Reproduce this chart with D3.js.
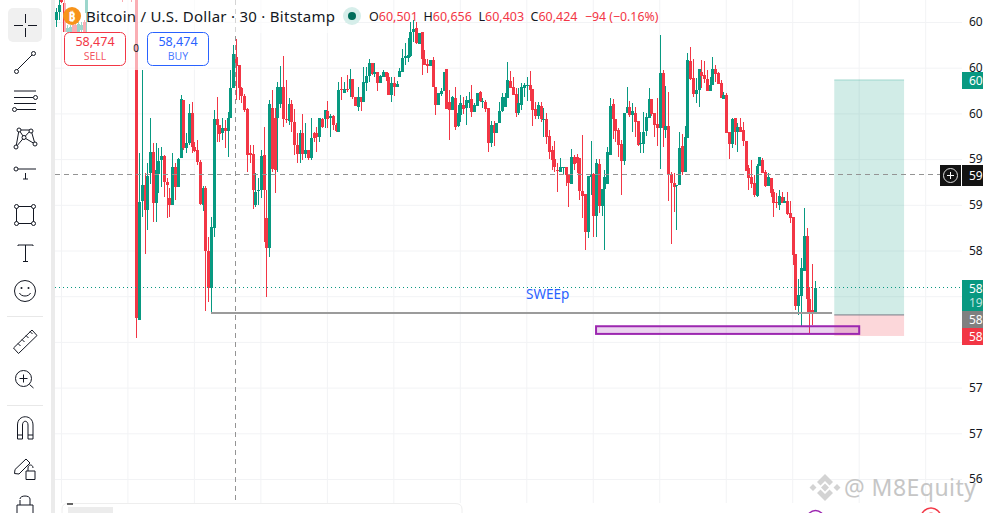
<!DOCTYPE html>
<html>
<head>
<meta charset="utf-8">
<script src="https://d3js.org/d3.v7.min.js"></script>
<style>
  html, body { margin: 0; padding: 0; background: #fff; overflow: hidden; }
  svg { display: block; }
  text { font-family: "Noto Sans", sans-serif; }
</style>
</head>
<body>
<div id="chart"></div>
<script>
// 29 bars before the big drop mostly sit above the top of the window (null = can't be seen)
var opens = [
  60818,60888,61037,60967,60713,60713,60774,60774,60713,60730,
  60800,60879,null,null,null,null,null,null,null,null,
  null,null,null,null,61037,null,null,61037,null,
  61080,58192,59233,59373,59155,59479,59662,59216,59470,59592,
  59627,59399,59260,59198,59531,59356,59610,60118,59698,59742,
  60004,59707,59680,59575,59198,59348,58796,58472,58997,59951,
  59899,59829,59873,59846,59960,60223,60494,60424,60223,60153,
  60039,59654,59645,59198,59321,59330,59636,59085,58822,60048,
  59960,59960,60083,60231,59951,59934,60083,59925,59724,59645,
  59829,59645,59680,59610,59829,59829,59794,59951,59951,60021,
  59960,59978,59899,59837,60214,60179,60214,60214,60301,60144,
  60056,60144,60100,60266,60328,60441,60345,60363,60266,60319,
  60363,60319,60161,60266,60231,60319,60363,60485,60485,60503,
  60713,60748,60608,60713,60476,60433,60415,60468,60231,60074,
  60170,60196,60389,60100,60030,60135,59890,59986,60074,60048,
  60091,60126,60013,60065,60188,60100,60100,60048,59742,59899,
  59829,59916,60021,60056,60135,60284,60231,60170,60004,60074,
  60223,60240,60249,60214,60039,59978,60065,59943,59951,59803,
  59680,59601,59505,59487,59522,59531,59461,59382,59619,59619,
  59610,59321,59295,58962,59443,59470,59102,59557,59190,59339,
  59382,59636,60083,59951,59855,59733,59584,60004,60056,59986,
  60004,59934,59733,59733,59846,59960,60126,60004,59908,59873,
  60354,59855,59890,59470,59391,59365,59373,59715,59487,59785,
  60459,60310,60170,60205,60363,60336,60301,60196,60249,60389,
  60354,60266,60126,60161,59837,59733,59960,59837,59881,59855,
  59759,59522,59443,59391,59277,59540,59592,59487,59365,59435,
  59312,59225,59198,59269,59216,59233,59128,59093,58770,58315,
  58402,58621,58927,58376,58280,58253
];
var highs = [
  60923,60993,61037,60993,60774,60774,60818,60818,60800,60800,
  60818,61037,null,null,null,null,null,null,null,null,
  null,null,null,null,61037,null,null,61037,null,
  61080,59654,60380,59479,59566,59960,59742,59742,59698,59707,
  59636,59435,59348,59654,59566,59610,60161,60118,59829,60083,
  60100,59750,59768,59592,59365,59365,58919,59093,60030,60144,
  59899,59960,59943,60013,60380,60599,60652,60424,60231,60170,
  60048,59724,59724,59479,59435,59680,59881,59330,60118,60205,
  60048,60275,60415,60503,60293,60135,60118,60039,59829,59855,
  59995,59916,59680,59960,59837,59881,59960,59960,60030,60109,
  59995,59986,59916,60275,60319,60275,60336,60389,60301,60144,
  60231,60144,60406,60406,60476,60441,60441,60363,60336,60380,
  60363,60354,60319,60319,60284,60398,60564,60617,60660,60800,
  60818,60800,60704,60713,60555,60476,60468,60494,60231,60179,
  60223,60363,60389,60205,60153,60231,60074,60161,60144,60153,
  60188,60249,60091,60179,60196,60135,60118,60048,59934,59934,
  59916,60100,60179,60179,60450,60371,60319,60223,60223,60266,
  60266,60319,60371,60214,60100,60100,60100,60048,60004,59855,
  59715,59759,59566,59610,59531,59531,59461,59689,59636,59645,
  59610,59811,59295,59452,59759,59479,59601,59601,59339,59505,
  59707,60135,60126,59951,59873,59768,60004,60231,60109,60091,
  60056,59934,59837,60013,60004,60223,60126,60004,60135,60687,
  60380,60240,60188,59487,59479,59373,59837,59820,59890,60529,
  60582,60476,60310,60389,60468,60459,60380,60319,60494,60424,
  60363,60293,60188,60179,59837,59960,59960,59916,59960,59925,
  59759,59549,59592,59461,59557,59619,59610,59505,59479,59435,
  59339,59304,59330,59312,59269,59312,59233,59093,58770,58551,
  58735,59172,58997,58481,58682,58533
];
var lows = [
  60757,60818,60967,60713,60704,60704,60704,60704,60704,60704,
  60704,60713,null,null,null,null,null,null,null,null,
  null,null,null,null,60975,null,null,60975,null,
  58035,58192,59093,58770,58980,59382,59050,59050,59304,59356,
  59269,59085,59093,59198,59242,59356,59610,59680,59654,59724,
  59654,59662,59549,59198,59146,58271,58350,58253,58919,59750,
  59750,59768,59698,59619,59960,60223,60118,60118,60091,60013,
  59487,59566,59163,59181,59198,59260,58875,58393,58744,59487,
  59304,59487,60048,59881,59916,59899,59837,59636,59566,59566,
  59592,59610,59592,59592,59750,59662,59750,59873,59873,59873,
  59794,59855,59837,59837,60118,60179,60188,60144,60126,60065,
  60021,60021,60100,60196,60275,60336,60319,60196,60266,60319,
  60284,60161,60100,60153,60231,60319,60363,60424,60450,60494,
  60625,60608,60608,60336,60424,60354,60415,60231,59986,60074,
  60153,60196,60039,59768,60030,59855,59881,59925,59995,59899,
  60048,59969,60013,60065,60100,60048,60013,59662,59707,59715,
  59829,59916,60013,60056,60135,60223,60161,59969,59986,60030,
  60144,60109,60109,59890,59951,59951,59925,59794,59733,59601,
  59505,59487,59312,59487,59461,59365,59181,59382,59505,59479,
  59242,59085,58805,58910,59286,58919,58919,59128,59102,58805,
  59382,59636,59776,59750,59619,59286,59549,60004,59969,59837,
  59794,59715,59654,59654,59803,59960,59978,59794,59715,59514,
  59707,59785,59233,58857,59137,58980,59373,59461,59487,59785,
  60293,60144,60091,60056,60223,60266,60196,60196,60249,60275,
  60258,60135,60126,59829,59601,59698,59724,59662,59837,59715,
  59496,59330,59348,59269,59269,59540,59479,59356,59365,59269,
  59093,59172,59155,59216,59216,59111,59041,58673,58280,58236,
  58140,58621,58262,58078,58148,58253
];
var closes = [
  60888,60949,60975,60713,60748,60757,60713,60713,60783,60774,
  60713,61011,null,null,null,null,null,null,null,null,
  null,null,null,null,61019,null,null,61019,null,
  58210,59225,59373,59155,59452,59662,59216,59505,59584,59627,
  59399,59373,59198,59531,59356,59601,60126,59698,59742,60004,
  59707,59671,59575,59207,59348,58796,58472,59006,59951,59899,
  59820,59873,59846,59960,60223,60520,60415,60223,60153,60030,
  59636,59636,59330,59312,59330,59627,59330,58822,60083,59514,
  59505,60231,60231,59951,59943,60083,59925,59724,59645,59829,
  59645,59680,59610,59785,59785,59794,59960,59881,60030,59951,
  59978,59899,59846,60205,60205,60214,60205,60301,60144,60065,
  60144,60100,60275,60328,60441,60345,60363,60266,60328,60363,
  60319,60161,60266,60231,60258,60371,60485,60503,60511,60713,
  60739,60617,60704,60476,60424,60415,60468,60231,60074,60179,
  60196,60363,60039,60030,60144,59881,60004,60091,60039,60118,
  60118,60013,60074,60179,60109,60109,60039,59742,59899,59829,
  59916,60021,60144,60144,60293,60223,60161,60004,60091,60231,
  60249,60249,60205,60030,59978,60074,59951,59951,59794,59662,
  59592,59531,59496,59531,59531,59461,59391,59619,59557,59566,
  59321,59277,58962,59452,59470,59102,59566,59190,59339,59443,
  59662,60065,59951,59846,59724,59584,60004,60056,59986,60021,
  59925,59724,59742,59837,59969,60126,59995,59899,59873,60354,
  59873,59890,59470,59391,59356,59373,59698,59487,59794,60468,
  60301,60170,60205,60389,60328,60301,60196,60249,60389,60345,
  60258,60135,60161,59829,59733,59951,59837,59881,59837,59759,
  59496,59435,59382,59286,59540,59619,59479,59365,59443,59304,
  59216,59216,59277,59216,59233,59120,59085,58761,58315,58411,
  58647,58927,58376,58253,58253,58474
];

var priceTicks = [60800, 60400, 60000, 59600, 59200, 58800, 58400, 58000, 57600, 57200, 56800];
// labels for 58400 and 58000 are hidden behind the price tags
var tickLabels = [60800, 60400, 60000, 59600, 59200, 58800, 57600, 57200, 56800];
var gridBars = d3.range(2, 343, 24);

var svgWidth = 983;
var svgHeight = 513;
var chartLeft = 55;
var chartRight = 962;
var chartBottom = 503;
var green = "#089981";
var red = "#f23645";
var blue = "#2962ff";
var purple = "#9c27b0";
var ink = "#131722";

var svg = d3.select("#chart").append("svg")
  .attr("width", svgWidth)
  .attr("height", svgHeight)
  .attr("viewBox", `0 0 ${svgWidth} ${svgHeight}`);

svg.append("defs").append("clipPath").attr("id", "plot")
  .append("rect")
  .attr("x", chartLeft).attr("y", 0)
  .attr("width", chartRight - chartLeft).attr("height", chartBottom);

// bar number -> pixel, 30m bars at 2.77px
var x = d3.scaleLinear().domain([0, 340]).range([55.9, 55.9 + 2.77 * 340]);
var y = d3.scaleLinear().domain([60800, 56800]).range([22, 479]);

var plot = svg.append("g").attr("clip-path", "url(#plot)");

// grid
plot.selectAll(".hgrid").data(priceTicks).enter().append("line")
  .attr("x1", chartLeft).attr("x2", chartRight)
  .attr("y1", d => y(d) + 0.5).attr("y2", d => y(d) + 0.5)
  .attr("stroke", "#f2f3f5").attr("stroke-width", 1);
plot.selectAll(".vgrid").data(gridBars).enter().append("line")
  .attr("x1", d => x(d)).attr("x2", d => x(d))
  .attr("y1", 0).attr("y2", chartBottom)
  .attr("stroke", "#f2f3f5").attr("stroke-width", 1);

// long position tool, behind the candles
var toolLeft = 281, toolRight = 306.2;
var tpPrice = 60293, entryPrice = 58236, stopPrice = 58052;
plot.append("rect")
  .attr("x", x(toolLeft)).attr("width", x(toolRight) - x(toolLeft))
  .attr("y", y(tpPrice)).attr("height", y(entryPrice) - y(tpPrice))
  .attr("fill", green).attr("fill-opacity", 0.19);
plot.append("line")
  .attr("x1", x(toolLeft)).attr("x2", x(toolRight))
  .attr("y1", y(tpPrice)).attr("y2", y(tpPrice))
  .attr("stroke", green).attr("stroke-opacity", 0.3);
plot.append("rect")
  .attr("x", x(toolLeft)).attr("width", x(toolRight) - x(toolLeft))
  .attr("y", y(entryPrice)).attr("height", y(stopPrice) - y(entryPrice))
  .attr("fill", red).attr("fill-opacity", 0.2);
plot.append("line")
  .attr("x1", x(toolLeft)).attr("x2", x(toolRight))
  .attr("y1", y(entryPrice)).attr("y2", y(entryPrice))
  .attr("stroke", "#787b86").attr("stroke-width", 1);

// candles
var bars = d3.range(opens.length).filter(i => opens[i] !== null);
var candles = plot.selectAll(".candle").data(bars).enter().append("g")
  .attr("shape-rendering", "crispEdges");
candles.append("line")
  .attr("x1", i => Math.round(x(i)) + 0.5).attr("x2", i => Math.round(x(i)) + 0.5)
  .attr("y1", i => y(highs[i])).attr("y2", i => y(lows[i]))
  .attr("stroke", i => closes[i] >= opens[i] ? green : red)
  .attr("stroke-width", 1);
candles.append("rect")
  .attr("x", i => Math.round(x(i)) - 1).attr("width", 3)
  .attr("y", i => y(Math.max(opens[i], closes[i])))
  .attr("height", i => Math.max(1, Math.abs(y(opens[i]) - y(closes[i]))))
  .attr("fill", i => closes[i] >= opens[i] ? green : red);

// last price and crosshair
var lastPrice = 58474, crossPrice = 59461, crossBar = 65;
plot.append("line")
  .attr("shape-rendering", "crispEdges")
  .attr("x1", chartLeft).attr("x2", chartRight)
  .attr("y1", y(lastPrice)).attr("y2", y(lastPrice))
  .attr("stroke", green).attr("stroke-width", 1).attr("stroke-dasharray", "1 3");
plot.append("line")
  .attr("shape-rendering", "crispEdges")
  .attr("x1", chartLeft).attr("x2", 940)
  .attr("y1", y(crossPrice)).attr("y2", y(crossPrice))
  .attr("stroke", "#949494").attr("stroke-width", 1).attr("stroke-dasharray", "5 4");
plot.append("line")
  .attr("shape-rendering", "crispEdges")
  .attr("x1", x(crossBar)).attr("x2", x(crossBar))
  .attr("y1", 0).attr("y2", chartBottom)
  .attr("stroke", "#949494").attr("stroke-width", 1).attr("stroke-dasharray", "5 4");

// SWEEp level and zone
var sweepPrice = 58253;
plot.append("line")
  .attr("x1", x(56)).attr("x2", x(280.2))
  .attr("y1", y(sweepPrice)).attr("y2", y(sweepPrice))
  .attr("stroke", "#9b9b9b").attr("stroke-width", 2);
plot.append("rect")
  .attr("x", x(195)).attr("width", x(290) - x(195))
  .attr("y", y(58137)).attr("height", y(58070) - y(58137))
  .attr("fill", purple).attr("fill-opacity", 0.2)
  .attr("stroke", purple).attr("stroke-width", 2);
svg.append("text").attr("x", 526).attr("y", 299)
  .attr("font-size", 13.5).attr("fill", blue).text("SWEEp");

// legend veil over the candles
svg.append("rect").attr("x", 64).attr("y", 0).attr("width", 281).attr("height", 33)
  .attr("fill", "#fff").attr("fill-opacity", 0.6);
svg.append("rect").attr("x", 64).attr("y", 33).attr("width", 144).attr("height", 37)
  .attr("fill", "#fff").attr("fill-opacity", 0.6);

// legend
svg.append("circle").attr("cx", 72).attr("cy", 16).attr("r", 9).attr("fill", "#f7931a");
svg.append("text").attr("x", 72).attr("y", 20.5).attr("text-anchor", "middle")
  .attr("font-size", 12).attr("font-weight", 700).attr("fill", "#fff").text("₿");
svg.append("text").attr("x", 86).attr("y", 22).attr("font-size", 15).attr("fill", ink)
  .attr("textLength", 249).attr("lengthAdjust", "spacing")
  .text("Bitcoin / U.S. Dollar · 30 · Bitstamp");
svg.append("circle").attr("cx", 352).attr("cy", 16).attr("r", 9).attr("fill", "#d6eeea");
svg.append("circle").attr("cx", 352).attr("cy", 16).attr("r", 4).attr("fill", "#006e5b");

var ohlcLabels = ["O", "H", "L", "C"];
var ohlcValues = ["60,501", "60,656", "60,403", "60,424"];
var ohlcX = [369, 423.5, 478.5, 530.5];
var ohlc = svg.selectAll(".ohlc").data(ohlcLabels).enter().append("text")
  .attr("x", (d, i) => ohlcX[i]).attr("y", 21).attr("font-size", 12.5).attr("fill", ink)
  .text(d => d);
ohlc.append("tspan").attr("fill", red).text((d, i) => ohlcValues[i]);
svg.append("text").attr("x", 585).attr("y", 21).attr("font-size", 12.3).attr("fill", red)
  .text("−94 (−0.16%)");

// sell / buy buttons
var buttons = [
  { left: 64.5, colour: red, label: "SELL" },
  { left: 147.5, colour: blue, label: "BUY" }
];
buttons.forEach(function(b) {
  svg.append("rect").attr("x", b.left).attr("y", 32.5).attr("width", 61).attr("height", 33)
    .attr("rx", 5).attr("fill", "#fff").attr("stroke", b.colour);
  svg.append("text").attr("x", b.left + 30.5).attr("y", 46).attr("text-anchor", "middle")
    .attr("font-size", 12.5).attr("fill", b.colour).text("58,474");
  svg.append("text").attr("x", b.left + 30.5).attr("y", 60).attr("text-anchor", "middle")
    .attr("font-size", 10.5).attr("fill", b.colour).attr("fill-opacity", 0.85).text(b.label);
});
svg.append("text").attr("x", 136).attr("y", 52).attr("text-anchor", "middle")
  .attr("font-size", 10).attr("fill", ink).text("0");

// price axis
var yAxis = d3.axisRight(y)
  .tickValues(tickLabels)
  .tickSize(0)
  .tickPadding(7)
  .tickFormat(d => String(d).slice(0, 2));
var axisGroup = svg.append("g")
  .attr("transform", `translate(${chartRight}, 0)`)
  .call(yAxis);
axisGroup.select(".domain").remove();
axisGroup.selectAll("text").attr("font-size", 12).attr("fill", ink);

// price tags
var tags = [
  { top: 72, bottom: 89, fill: green, lines: ["60"] },
  { top: 165, bottom: 186, fill: "#131313", lines: ["59"] },
  { top: 280, bottom: 311, fill: green, lines: ["58", "19"] },
  { top: 311, bottom: 328, fill: "#808080", lines: ["58"] },
  { top: 328, bottom: 345, fill: red, lines: ["58"] }
];
tags.forEach(function(t) {
  svg.append("rect").attr("x", chartRight).attr("y", t.top)
    .attr("width", svgWidth - chartRight).attr("height", t.bottom - t.top)
    .attr("fill", t.fill);
  t.lines.forEach(function(l, i) {
    var mid = (t.top + t.bottom) / 2 + 4.2 + (i - (t.lines.length - 1) / 2) * 14;
    svg.append("text").attr("x", 969).attr("y", mid)
      .attr("font-size", 12).attr("fill", "#fff").attr("fill-opacity", i ? 0.75 : 1)
      .text(l);
  });
});

// plus button next to the crosshair tag
svg.append("rect").attr("x", 940).attr("y", 165).attr("width", 21).attr("height", 21)
  .attr("fill", "#131313");
svg.append("circle").attr("cx", 950.5).attr("cy", 175.5).attr("r", 7)
  .attr("fill", "none").attr("stroke", "#ddd");
svg.append("path").attr("d", "M947 175.5H954M950.5 172V179")
  .attr("stroke", "#fff").attr("fill", "none");

// left toolbar
var bar = svg.append("g");
bar.append("rect").attr("x", 0).attr("y", 0).attr("width", 51).attr("height", svgHeight).attr("fill", "#fff");
bar.append("rect").attr("x", 51).attr("y", 0).attr("width", 4).attr("height", svgHeight).attr("fill", "#ebebeb");
bar.append("rect").attr("x", 8).attr("y", 8).attr("width", 34).attr("height", 34).attr("rx", 5).attr("fill", "#f0f0f0");
[316, 405].forEach(function(sy) {
  bar.append("line").attr("x1", 7).attr("x2", 43).attr("y1", sy + 0.5).attr("y2", sy + 0.5).attr("stroke", "#e8e8e8");
});

var iconStroke = { fill: "none", stroke: "#131722", "stroke-width": 1 };
function icon(d) {
  var p = bar.append("path").attr("d", d);
  Object.keys(iconStroke).forEach(k => p.attr(k, iconStroke[k]));
  return p;
}
function knob(cx, cy, r) {
  bar.append("circle").attr("cx", cx).attr("cy", cy).attr("r", r || 2)
    .attr("fill", "#fff").attr("stroke", "#131722");
}
// crosshair
icon("M25.5 14V23M25.5 28V37M14 25.5H23M28 25.5H37");
// trend line
icon("M17 70L33 54"); knob(16.5, 71.5); knob(33.5, 53.5);
// fib
icon("M14 91H36M14 97.5H33M14 103.5H36M17 109.5H36"); knob(35.5, 97.5); knob(14.5, 109.5);
// xabcd
icon("M16 147L19 130L24 137.5L31 130L35 144L24 137.5L16 147M19 130L31 130");
knob(16, 147); knob(19, 130); knob(24, 137.5); knob(31, 131); knob(35, 144);
// anchored text
icon("M18 169H36M25.5 173V179M23 179H28"); knob(16, 169);
// rectangle
icon("M16.5 206.5H33.5V223.5H16.5Z"); knob(16.5, 206.5); knob(33.5, 206.5); knob(16.5, 223.5); knob(33.5, 223.5);
// text
icon("M18 246V245H33V246M25.5 245V261.5M23 261.5H28");
// smile
icon("M19.5 293C21 297 29 297 30.5 293");
bar.append("circle").attr("cx", 25).attr("cy", 291).attr("r", 10.5).attr("fill", "none").attr("stroke", "#131722");
bar.append("circle").attr("cx", 21.5).attr("cy", 288).attr("r", 1).attr("fill", "#131722");
bar.append("circle").attr("cx", 28.5).attr("cy", 288).attr("r", 1).attr("fill", "#131722");
// ruler
icon("M13.5 348L32 330L37 335.5L18.5 353.5ZM18 343.5L20.5 346M22 339.5L24.5 342M26 335.5L28.5 338M30 331.5L32.5 334");
// zoom
bar.append("circle").attr("cx", 23.5).attr("cy", 378.5).attr("r", 8).attr("fill", "none").attr("stroke", "#131722");
icon("M19.5 378.5H27.5M23.5 374.5V382.5M29.5 384.5L33.5 388");
// magnet
icon("M17.5 439V425C17.5 414 33 414 33 425V439H28V425C28 420 22.5 420 22.5 425V439ZM17.5 435H22.5M28 435H33");
// pencil and lock
icon("M14.5 473.5L15 469.5L26 459L30 463L19 474ZM26 471H35V479.5H26ZM28 471V468C28 464 33 464 33 468");
// lock
icon("M20 500V505M20 499C20 495 30 495 30 499V505M17 505V513M33 505V513M17 505H33");

// bottom pane
svg.append("path").attr("d", "M62 513V509Q62 503.5 68 503.5H455Q462 503.5 462 509V513")
  .attr("fill", "#fff").attr("stroke", "#eeeeee");
svg.append("rect").attr("x", 68).attr("y", 507).attr("width", 45).attr("height", 6).attr("fill", "#ececec");
svg.append("path").attr("d", "M67 504H73").attr("stroke", "#333").attr("stroke-width", 1.5);

// watermark
var mark = svg.append("g").attr("fill", "#d3d3d3").attr("stroke", "none");
mark.append("path")
  .attr("d", "M825 474L833 482L829.5 485.5L825 481L820.5 485.5L817 482ZM813 484L816.5 487.5L813 491L809.5 487.5ZM837 484L840.5 487.5L837 491L833.5 487.5ZM825 483.5L829 487.5L825 491.5L821 487.5ZM817 493L820.5 489.5L825 494L829.5 489.5L833 493L825 501Z");
svg.append("text").attr("x", 844).attr("y", 496).attr("font-size", 23).attr("fill", "#c6c6c6")
  .attr("textLength", 132).attr("lengthAdjust", "spacing").text("@ M8Equity");

// icons cut off by the bottom edge
svg.append("circle").attr("cx", 815.5).attr("cy", 519).attr("r", 8.5)
  .attr("fill", "#fff").attr("stroke", purple).attr("stroke-width", 1.5);
svg.append("circle").attr("cx", 931).attr("cy", 518).attr("r", 10)
  .attr("fill", "#fff").attr("stroke", red).attr("stroke-width", 1.5);
svg.append("circle").attr("cx", 931).attr("cy", 519).attr("r", 6)
  .attr("fill", "#5b8def").attr("stroke", red);
</script>
</body>
</html>
